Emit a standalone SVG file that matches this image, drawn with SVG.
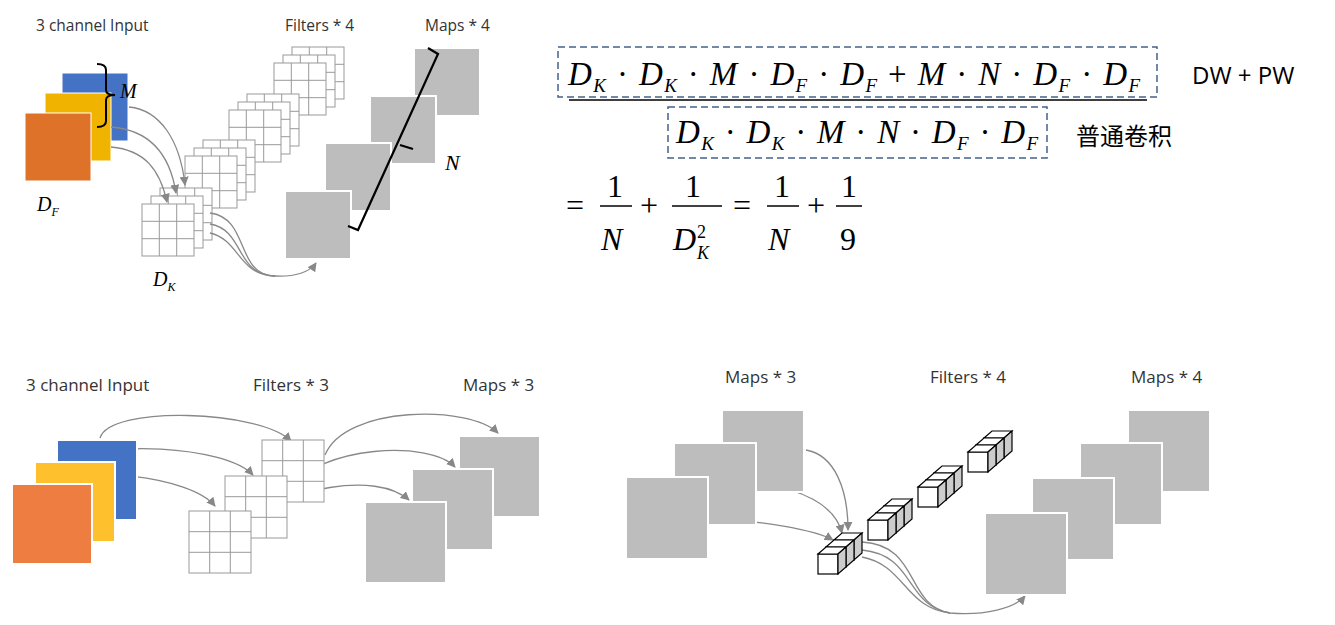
<svg xmlns="http://www.w3.org/2000/svg" width="1335" height="625" viewBox="0 0 1335 625">
<defs>
<style>
.lbl{font-family:"Open Sans","Liberation Sans",sans-serif;fill:#333}
.m{font-family:"Liberation Serif",serif;font-style:italic;fill:#000}
.mn{font-family:"Liberation Serif",serif;fill:#000}
.cn{font-family:"Liberation Serif","Noto Sans CJK SC",serif;fill:#000}
.arr{fill:none;stroke:#888;stroke-width:1.3}
.gray{fill:#bdbdbd;stroke:#fff;stroke-width:2}
.box{fill:none;stroke:#44618a;stroke-width:1.5;stroke-dasharray:7,4}
</style>
<marker id="ah" viewBox="0 0 10 10" refX="9" refY="5" markerWidth="7" markerHeight="7" orient="auto"><path d="M0,0L10,5L0,10z" fill="#888"/></marker>
<g id="g17"><rect width="52" height="52" fill="#fff" stroke="#999"/><path d="M17.3,0V52M34.7,0V52M0,17.3H52M0,34.7H52" stroke="#999" fill="none"/></g>
<g id="st17"><use href="#g17" x="18" y="-16"/><use href="#g17" x="9" y="-8"/><use href="#g17"/></g>
<g id="g20"><rect width="62" height="62" fill="#fff" stroke="#999"/><path d="M20.7,0V62M41.3,0V62M0,20.7H62M0,41.3H62" stroke="#999" fill="none"/></g>
<g id="cube"><rect width="20" height="20" fill="#fff" stroke="#000" stroke-width="1.2"/><path d="M0,0L8,-7H28L20,0z" fill="#fff" stroke="#000" stroke-width="1.2"/><path d="M20,0L28,-7V13L20,20z" fill="#ccc" stroke="#000" stroke-width="1.2"/></g>
<g id="cs"><use href="#cube" x="16" y="-14"/><use href="#cube" x="8" y="-7"/><use href="#cube"/></g>
</defs>

<g id="top-left">
<text class="lbl" x="36" y="31" font-size="15.5">3 channel Input</text>
<text class="lbl" x="285" y="31" font-size="15.5">Filters * 4</text>
<text class="lbl" x="425" y="31" font-size="15.5">Maps * 4</text>
<g id="input1">
<rect x="62" y="73" width="66" height="68" fill="#4472c4" stroke="#fff"/>
<rect x="45" y="93" width="66" height="68" fill="#f0b400" stroke="#fff"/>
<rect x="25" y="113" width="66" height="68" fill="#de7228" stroke="#fff"/>
<path d="M97,64Q106,64 106,70V90Q106,95 115,95Q106,95 106,100V121Q106,127 97,127" fill="none" stroke="#000" stroke-width="2"/>
<text class="m" x="120" y="98" font-size="20">M</text>
<text class="m" x="37" y="211" font-size="20">D<tspan font-size="12" dy="5">F</tspan></text>
</g>
<g id="filters4">
<use href="#st17" x="274" y="63"/>
<use href="#st17" x="229" y="110"/>
<use href="#st17" x="185" y="156"/>
<use href="#st17" x="142" y="204"/>
<text class="m" x="153" y="286" font-size="20">D<tspan font-size="12" dy="5">K</tspan></text>
</g>
<g id="maps4">
<rect class="gray" x="414" y="48" width="66" height="68"/>
<rect class="gray" x="370" y="96" width="66" height="68"/>
<rect class="gray" x="325" y="143" width="66" height="68"/>
<rect class="gray" x="285" y="191" width="66" height="68"/>
<path d="M428,48L438,54L358,230L348,226M400,145L413,149" fill="none" stroke="#000" stroke-width="2.2"/>
<text class="m" x="445" y="170" font-size="22">N</text>
</g>
</g>

<g id="connectors">
<path class="arr" marker-end="url(#ah)" d="M129,107C160,110 180,140 185,185"/>
<path class="arr" marker-end="url(#ah)" d="M111,127C150,130 170,155 176,193"/>
<path class="arr" marker-end="url(#ah)" d="M111,147C145,150 160,170 167,202"/>
<path class="arr" d="M210,213C250,218 235,275 275,276"/>
<path class="arr" d="M210,224C245,230 235,275 275,276"/>
<path class="arr" d="M210,233C240,240 238,275 275,276C295,277 310,272 316,263" marker-end="url(#ah)"/>

<path class="arr" marker-end="url(#ah)" d="M100,438C110,405 260,410 291,441"/>
<path class="arr" marker-end="url(#ah)" d="M75,463C95,440 225,445 253,475"/>
<path class="arr" marker-end="url(#ah)" d="M55,485C75,465 190,475 215,506"/>
<path class="arr" marker-end="url(#ah)" d="M325,455C345,405 470,405 498,433"/>
<path class="arr" marker-end="url(#ah)" d="M288,490C320,445 430,440 455,467"/>
<path class="arr" marker-end="url(#ah)" d="M250,520C285,490 375,470 409,500"/>

<path class="arr" marker-end="url(#ah)" d="M806,450C835,455 848,490 848,530"/>
<path class="arr" marker-end="url(#ah)" d="M757,485C800,487 835,505 842,533"/>
<path class="arr" marker-end="url(#ah)" d="M709,519C760,520 815,530 833,540"/>
<path class="arr" d="M862,542C920,545 905,605 950,613"/>
<path class="arr" d="M862,550C915,555 905,605 950,613"/>
<path class="arr" d="M862,557C905,565 905,608 950,613C985,616 1015,608 1025,596" marker-end="url(#ah)"/>
</g>

<g id="formula">
<rect class="box" x="558" y="47" width="599" height="50"/>
<text class="m" x="568" y="85" font-size="33" textLength="572" lengthAdjust="spacing">D<tspan font-size="19" dy="7">K</tspan><tspan dy="-7" font-style="normal"> · </tspan>D<tspan font-size="19" dy="7">K</tspan><tspan dy="-7" font-style="normal"> · </tspan>M<tspan font-style="normal"> · </tspan>D<tspan font-size="19" dy="7">F</tspan><tspan dy="-7" font-style="normal"> · </tspan>D<tspan font-size="19" dy="7">F</tspan><tspan dy="-7" font-style="normal"> + </tspan>M<tspan font-style="normal"> · </tspan>N<tspan font-style="normal"> · </tspan>D<tspan font-size="19" dy="7">F</tspan><tspan dy="-7" font-style="normal"> · </tspan>D<tspan font-size="19" dy="7">F</tspan></text>
<line x1="569" y1="100" x2="1147" y2="100" stroke="#000" stroke-width="1.5"/>
<rect class="box" x="668" y="107" width="379" height="51"/>
<text class="m" x="676" y="143" font-size="33" textLength="362" lengthAdjust="spacing">D<tspan font-size="19" dy="7">K</tspan><tspan dy="-7" font-style="normal"> · </tspan>D<tspan font-size="19" dy="7">K</tspan><tspan dy="-7" font-style="normal"> · </tspan>M<tspan font-style="normal"> · </tspan>N<tspan font-style="normal"> · </tspan>D<tspan font-size="19" dy="7">F</tspan><tspan dy="-7" font-style="normal"> · </tspan>D<tspan font-size="19" dy="7">F</tspan></text>
<text class="lbl" x="1192" y="84" font-size="24" style="fill:#000">DW + PW</text>
<text class="cn" x="1076" y="145" font-size="24">普通卷积</text>
<text class="mn" x="566" y="216" font-size="32">=</text>
<text class="mn" x="607" y="197" font-size="32">1</text>
<line x1="600" y1="206" x2="632" y2="206" stroke="#000" stroke-width="1.5"/>
<text class="m" x="601" y="250" font-size="32">N</text>
<text class="mn" x="640" y="216" font-size="32">+</text>
<text class="mn" x="685" y="197" font-size="32">1</text>
<line x1="672" y1="206" x2="722" y2="206" stroke="#000" stroke-width="1.5"/>
<text class="m" x="673" y="250" font-size="32">D</text>
<text class="mn" x="697" y="238" font-size="18">2</text>
<text class="m" x="697" y="259" font-size="18">K</text>
<text class="mn" x="733" y="216" font-size="32">=</text>
<text class="mn" x="774" y="197" font-size="32">1</text>
<line x1="767" y1="206" x2="799" y2="206" stroke="#000" stroke-width="1.5"/>
<text class="m" x="768" y="250" font-size="32">N</text>
<text class="mn" x="807" y="216" font-size="32">+</text>
<text class="mn" x="841" y="197" font-size="32">1</text>
<line x1="836" y1="206" x2="862" y2="206" stroke="#000" stroke-width="1.5"/>
<text class="mn" x="840" y="250" font-size="32">9</text>
</g>

<g id="bottom-left">
<text class="lbl" x="26" y="391" font-size="17">3 channel Input</text>
<text class="lbl" x="253" y="391" font-size="17">Filters * 3</text>
<text class="lbl" x="463" y="391" font-size="17">Maps * 3</text>
<g id="input2">
<rect x="57" y="440" width="80" height="80" fill="#4472c4" stroke="#fff" stroke-width="2"/>
<rect x="35" y="462" width="80" height="80" fill="#ffc02e" stroke="#fff" stroke-width="2"/>
<rect x="12" y="484" width="80" height="80" fill="#ed7d41" stroke="#fff" stroke-width="2"/>
</g>
<g id="filters3">
<use href="#g20" x="262" y="440"/>
<use href="#g20" x="225" y="476"/>
<use href="#g20" x="189" y="511"/>
</g>
<g id="maps3">
<rect class="gray" x="459" y="436" width="81" height="81"/>
<rect class="gray" x="412" y="469" width="81" height="81"/>
<rect class="gray" x="365" y="502" width="81" height="81"/>
</g>
</g>

<g id="bottom-right">
<text class="lbl" x="725" y="383" font-size="17">Maps * 3</text>
<text class="lbl" x="930" y="383" font-size="17">Filters * 4</text>
<text class="lbl" x="1131" y="383" font-size="17">Maps * 4</text>
<g id="maps3b">
<rect class="gray" x="722" y="410" width="82" height="82"/>
<rect class="gray" x="674" y="443" width="82" height="82"/>
<rect class="gray" x="626" y="477" width="82" height="82"/>
</g>
<g id="filters4b">
<use href="#cs" x="968" y="452"/>
<use href="#cs" x="918" y="487"/>
<use href="#cs" x="868" y="520"/>
<use href="#cs" x="818" y="554"/>
</g>
<g id="maps4b">
<rect class="gray" x="1128" y="410" width="82" height="82"/>
<rect class="gray" x="1080" y="443" width="82" height="82"/>
<rect class="gray" x="1032" y="478" width="82" height="82"/>
<rect class="gray" x="985" y="513" width="82" height="82"/>
</g>
</g>
</svg>
